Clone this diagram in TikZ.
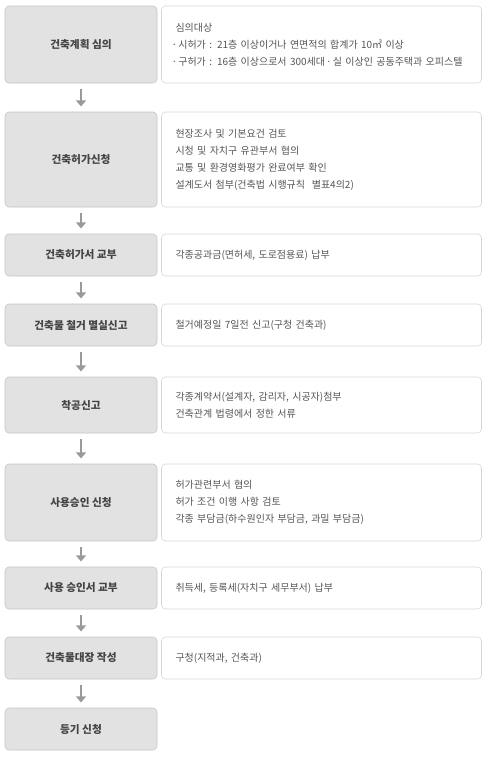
\documentclass[tikz,border=0pt]{standalone}
\usepackage{fontspec}
\setmainfont{Noto Sans CJK KR}
\usepackage{tikz}
\usetikzlibrary{arrows.meta}
\definecolor{custom_fill}{HTML}{E2E2E2}
\definecolor{custom_edge}{HTML}{C4C4C4}
\definecolor{custom_line}{HTML}{D6D6D6}
\definecolor{custom_arrow}{HTML}{9A9A9A}
\definecolor{custom_text}{HTML}{444444}
\definecolor{custom_note}{HTML}{555555}
\newcommand{\mdot}{\makebox[0.45em]{·}}

\begin{document}
\begin{tikzpicture}[x=0.75pt, y=-0.75pt,
    stepbox/.style={draw=custom_edge, fill=custom_fill, rounded corners=3pt,
      minimum width=114pt, text=custom_text, font=\fontsize{8}{10}\selectfont\bfseries},
    notebox/.style={draw=custom_line, fill=white, rounded corners=3pt,
      text width=224pt, inner xsep=8pt, align=left, text=custom_note,
      font=\fontsize{7.5}{12.75}\selectfont},
    flowarrow/.style={draw=custom_arrow, line width=1.5pt,
      -{Triangle[length=4.5pt,width=7.5pt]}, shorten <=4.5pt, shorten >=4pt}]

      % Fix the page size
      \useasboundingbox (0, 0) rectangle (488, 758);

      % Step 1
      \node[stepbox, minimum height=57.75pt] (s1) at (81, 44.5) {건축계획 심의};
      \node[notebox, minimum height=57.75pt] (n1) at (321.5, 44.5)
        {\hspace{2.5pt}심의대상\\
         \mdot\,시허가 : 21층 이상이거나 연면적의 합계가 10㎡ 이상\\
         \mdot\,구허가 : 16층 이상으로서 300세대\,\mdot\,실 이상인 공동주택과 오피스텔};

      % Step 2
      \node[stepbox, minimum height=71.25pt] (s2) at (81, 159.5) {건축허가신청};
      \node[notebox, minimum height=71.25pt] (n2) at (321.5, 159.5)
        {\hspace{2.5pt}현장조사 및 기본요건 검토\\
         \hspace{2.5pt}시청 및 자치구 유관부서 협의\\
         \hspace{2.5pt}교통 및 환경영화평가 완료여부 확인\\
         \hspace{2.5pt}설계도서 첨부(건축법 시행규칙\ \ 별표4의2)};

      % Step 3
      \node[stepbox, minimum height=31.5pt] (s3) at (81, 255) {건축허가서 교부};
      \node[notebox, minimum height=31.5pt] (n3) at (321.5, 255)
        {\hspace{2.5pt}각종공과금(면허세, 도로점용료) 납부};

      % Step 4
      \node[stepbox, minimum height=31.5pt] (s4) at (81, 325) {건축물 철거 멸실신고};
      \node[notebox, minimum height=31.5pt] (n4) at (321.5, 325)
        {\hspace{2.5pt}철거예정일 7일전 신고(구청 건축과)};

      % Step 5
      \node[stepbox, minimum height=42pt] (s5) at (81, 405) {착공신고};
      \node[notebox, minimum height=42pt] (n5) at (321.5, 405)
        {\hspace{2.5pt}각종계약서(설계자, 감리자, 시공자)첨부\\
         \hspace{2.5pt}건축관계 법령에서 정한 서류};

      % Step 6
      \node[stepbox, minimum height=57.75pt] (s6) at (81, 502.5) {사용승인 신청};
      \node[notebox, minimum height=57.75pt] (n6) at (321.5, 502.5)
        {\hspace{2.5pt}허가관련부서 협의\\
         \hspace{2.5pt}허가 조건 이행 사항 검토\\
         \hspace{2.5pt}각종 부담금(하수원인자 부담금, 과밀 부담금)};

      % Step 7
      \node[stepbox, minimum height=31.5pt] (s7) at (81, 588) {사용 승인서 교부};
      \node[notebox, minimum height=31.5pt] (n7) at (321.5, 588)
        {\hspace{2.5pt}취득세, 등록세(자치구 세무부서) 납부};

      % Step 8
      \node[stepbox, minimum height=31.5pt] (s8) at (81, 658) {건축물대장 작성};
      \node[notebox, minimum height=31.5pt] (n8) at (321.5, 658)
        {\hspace{2.5pt}구청(지적과, 건축과)};

      % Step 9
      \node[stepbox, minimum height=31.5pt] (s9) at (81, 729) {등기 신청};

      % Draw the arrows
      \draw[flowarrow] (s1) -- (s2);
      \draw[flowarrow] (s2) -- (s3);
      \draw[flowarrow] (s3) -- (s4);
      \draw[flowarrow] (s4) -- (s5);
      \draw[flowarrow] (s5) -- (s6);
      \draw[flowarrow] (s6) -- (s7);
      \draw[flowarrow] (s7) -- (s8);
      \draw[flowarrow] (s8) -- (s9);

  \end{tikzpicture}
\end{document}
